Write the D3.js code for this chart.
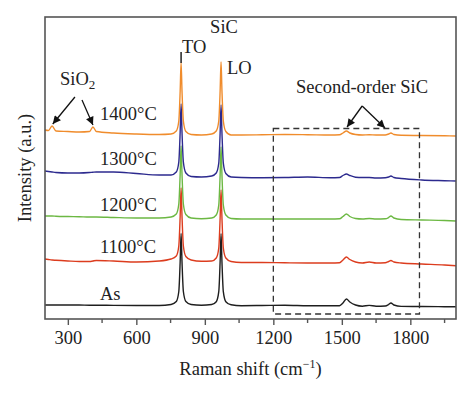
<!DOCTYPE html>
<html>
<head>
<meta charset="utf-8">
<script src="https://cdn.jsdelivr.net/npm/d3@7"></script>
<style>
  body { margin: 0; background: #fff; }
  svg text { font-family: "Liberation Serif", "DejaVu Serif", serif; fill: #222; }
</style>
</head>
<body>
<div id="chart"></div>
<script>
/** Raman shift grid (cm-1) shared by all spectra */
let shift = [200, 215, 231, 248, 300, 350, 395, 410, 425, 500, 600, 700, 752, 775, 786, 792, 796, 800, 806, 817, 840, 885, 930, 950, 961, 967, 971, 975, 981, 992, 1015, 1060, 1150, 1250, 1350, 1450, 1490, 1505, 1520, 1535, 1560, 1590, 1620, 1650, 1690, 1705, 1715, 1728, 1760, 1850, 1950, 2000];

/** stacked intensities (a.u.), one array per sample */
let asDep = [14, 14, 14, 14, 14, 14, 13.8, 13.8, 13.8, 13.6, 13.5, 13.5, 14.5, 17.5, 27.5, 57.5, 85.5, 57.5, 27.5, 17.5, 14.5, 13.8, 14.5, 17.3, 27.3, 57.3, 85.3, 57.3, 27.3, 17.3, 14.2, 13.3, 13.5, 13.8, 13.3, 13.2, 13.3, 16, 20, 17, 14, 12.8, 13.6, 12.8, 13, 14.5, 16, 14, 12.6, 12.5, 12.3, 12.2];
let t1100 = [60, 59.5, 59, 58.7, 58, 57.5, 57.5, 58, 58.5, 58, 57, 58, 60, 63, 73, 103, 131, 103, 73, 62.5, 59, 57.8, 58, 61, 71, 101, 129, 101, 71, 61, 57.5, 56.5, 56.5, 56.2, 56, 56, 56.2, 59, 62, 59.5, 57, 56, 57, 56, 56.3, 57.5, 58.5, 57, 56, 55, 54, 53.3];
let t1200 = [103, 103, 103, 102.8, 102.5, 102.3, 102, 102, 102, 101.5, 101, 101, 102, 105, 115, 145, 173, 145, 115, 104.5, 101, 100.3, 101, 104, 114, 144, 172, 144, 114, 104, 100.5, 100, 100, 100, 100, 100, 100.2, 102.5, 105, 102.5, 100.5, 100, 100.5, 100, 100.2, 101.5, 103, 101, 99.5, 99, 98.5, 98];
let t1300 = [148, 147.5, 147, 146.5, 146, 146, 146.5, 146.8, 147, 147, 145.5, 144, 144, 147, 157, 187, 215, 187, 157, 146, 142.5, 142, 143, 146, 156, 186, 214, 186, 156, 145.5, 142, 141.5, 141.3, 141.5, 142, 141.3, 141.5, 143.5, 145, 143.5, 141.8, 141.5, 141.5, 141, 141.2, 142, 143, 141.5, 140.5, 139, 138.3, 138];
let t1400 = [189, 188.5, 193, 188, 187.5, 187, 187.5, 192, 187.5, 186, 185, 184.5, 185, 188, 198, 228, 256, 228, 198, 187.5, 184.5, 184, 185, 188, 198, 228, 257, 228, 198, 187.5, 184, 184, 184.2, 184.5, 184.3, 184, 184.2, 186, 188, 186, 184.5, 184, 184.3, 184, 184, 185, 186, 184.5, 183.7, 183.5, 183.2, 183];

let sampleNames = ['As', '1100°C', '1200°C', '1300°C', '1400°C'];
let sampleColors = ['#1e1e1e', '#dc3c1e', '#6cb843', '#2c2a8e', '#f08c2c'];
let spectra = [asDep, t1100, t1200, t1300, t1400];

let xTicks = [300, 600, 900, 1200, 1500, 1800];
let xMinor = [450, 750, 1050, 1350, 1650, 1950];

/** set up chart size */
let width = 474;
let height = 395;
let margin = {left: 45, right: 18, top: 17, bottom: 76};
let fontSize = '18.5px';

let svg = d3.select('#chart')
  .append('svg')
  .attr('width', width)
  .attr('height', height);

let x = d3.scaleLinear().domain([200, 2000]).range([margin.left, width - margin.right]);
let y = d3.scaleLinear().domain([0, 302]).range([height - margin.bottom, margin.top]);

let line = d3.line()
  .x(d => x(d[0]))
  .y(d => y(d[1]))
  .curve(d3.curveMonotoneX);

/** spectra, bottom one first so upper traces sit on top */
spectra.forEach((vals, i) => {
  svg.append('path')
    .datum(shift.map((s, j) => [s, vals[j]]))
    .attr('fill', 'none')
    .attr('stroke', sampleColors[i])
    .attr('stroke-width', 1.4)
    .attr('d', line);
});

/** black tip above the TO peak */
svg.append('line')
  .attr('x1', x(796)).attr('x2', x(796))
  .attr('y1', y(256)).attr('y2', y(267))
  .attr('stroke', '#111').attr('stroke-width', 1.4);

/** frame */
svg.append('rect')
  .attr('x', x(200)).attr('y', y(302))
  .attr('width', x(2000) - x(200)).attr('height', y(0) - y(302))
  .attr('fill', 'none').attr('stroke', '#555').attr('stroke-width', 1.6);

/** x axis */
let xAxis = svg.append('g')
  .attr('transform', `translate(0,${y(0)})`)
  .call(d3.axisBottom(x).tickValues(xTicks).tickFormat(d3.format('d')).tickSize(6).tickPadding(6));
xAxis.select('.domain').remove();
xAxis.selectAll('line').attr('stroke', '#555').attr('stroke-width', 1.4);
xAxis.selectAll('text')
  .style('font-family', '"Liberation Serif", serif')
  .style('font-size', fontSize)
  .attr('fill', '#222');

svg.append('g')
  .selectAll('line')
  .data(xMinor)
  .enter()
  .append('line')
  .attr('x1', d => x(d)).attr('x2', d => x(d))
  .attr('y1', y(0)).attr('y2', y(0) + 4)
  .attr('stroke', '#555').attr('stroke-width', 1.4);

/** axis titles */
let xTitle = svg.append('text')
  .attr('x', x(1100)).attr('y', 375)
  .attr('text-anchor', 'middle')
  .style('font-size', fontSize);
xTitle.append('tspan').text('Raman shift (cm');
xTitle.append('tspan').text('−1').attr('dy', -7).style('font-size', '12px');
xTitle.append('tspan').text(')').attr('dy', 7);

svg.append('text')
  .attr('transform', `translate(31,${(y(0) + y(302)) / 2}) rotate(-90)`)
  .attr('text-anchor', 'middle')
  .style('font-size', fontSize)
  .text('Intensity (a.u.)');

/** sample labels */
let labelBase = [300, 253, 211, 165, 120];
sampleNames.forEach((name, i) => {
  svg.append('text')
    .attr('x', 100).attr('y', labelBase[i])
    .style('font-size', fontSize)
    .text(name);
});

/** peak labels */
svg.append('text').attr('x', 224).attr('y', 33).attr('text-anchor', 'middle')
  .style('font-size', fontSize).text('SiC');
svg.append('text').attr('x', 182).attr('y', 53)
  .style('font-size', fontSize).text('TO');
svg.append('text').attr('x', 227).attr('y', 74)
  .style('font-size', fontSize).text('LO');

let sio2 = svg.append('text').attr('x', 60).attr('y', 85).style('font-size', fontSize);
sio2.append('tspan').text('SiO');
sio2.append('tspan').text('2').attr('dy', 4).style('font-size', '13px');

svg.append('text').attr('x', 362).attr('y', 93).attr('text-anchor', 'middle')
  .style('font-size', fontSize).text('Second-order SiC');

/** arrows */
svg.append('defs').append('marker')
  .attr('id', 'head')
  .attr('viewBox', '0 0 10 10')
  .attr('refX', 10).attr('refY', 5)
  .attr('markerWidth', 10).attr('markerHeight', 8)
  .attr('markerUnits', 'userSpaceOnUse')
  .attr('orient', 'auto')
  .append('path')
  .attr('d', 'M0,0 L10,5 L0,10 Z')
  .attr('fill', '#111');

let arrows = [
  [[331, 222], [234, 195]],
  [[362, 219], [410, 194]],
  [[1589, 213], [1523, 192]],
  [[1589, 213], [1689, 191]]
];
arrows.forEach(a => {
  svg.append('line')
    .attr('x1', x(a[0][0])).attr('y1', y(a[0][1]))
    .attr('x2', x(a[1][0])).attr('y2', y(a[1][1]))
    .attr('stroke', '#111').attr('stroke-width', 1.3)
    .attr('marker-end', 'url(#head)');
});

/** dashed box round the second-order region */
svg.append('rect')
  .attr('x', x(1200)).attr('y', y(190.5))
  .attr('width', x(1840) - x(1200)).attr('height', y(5) - y(190.5))
  .attr('fill', 'none')
  .attr('stroke', '#333')
  .attr('stroke-width', 1.3)
  .attr('stroke-dasharray', '6,4');
</script>
</body>
</html>
